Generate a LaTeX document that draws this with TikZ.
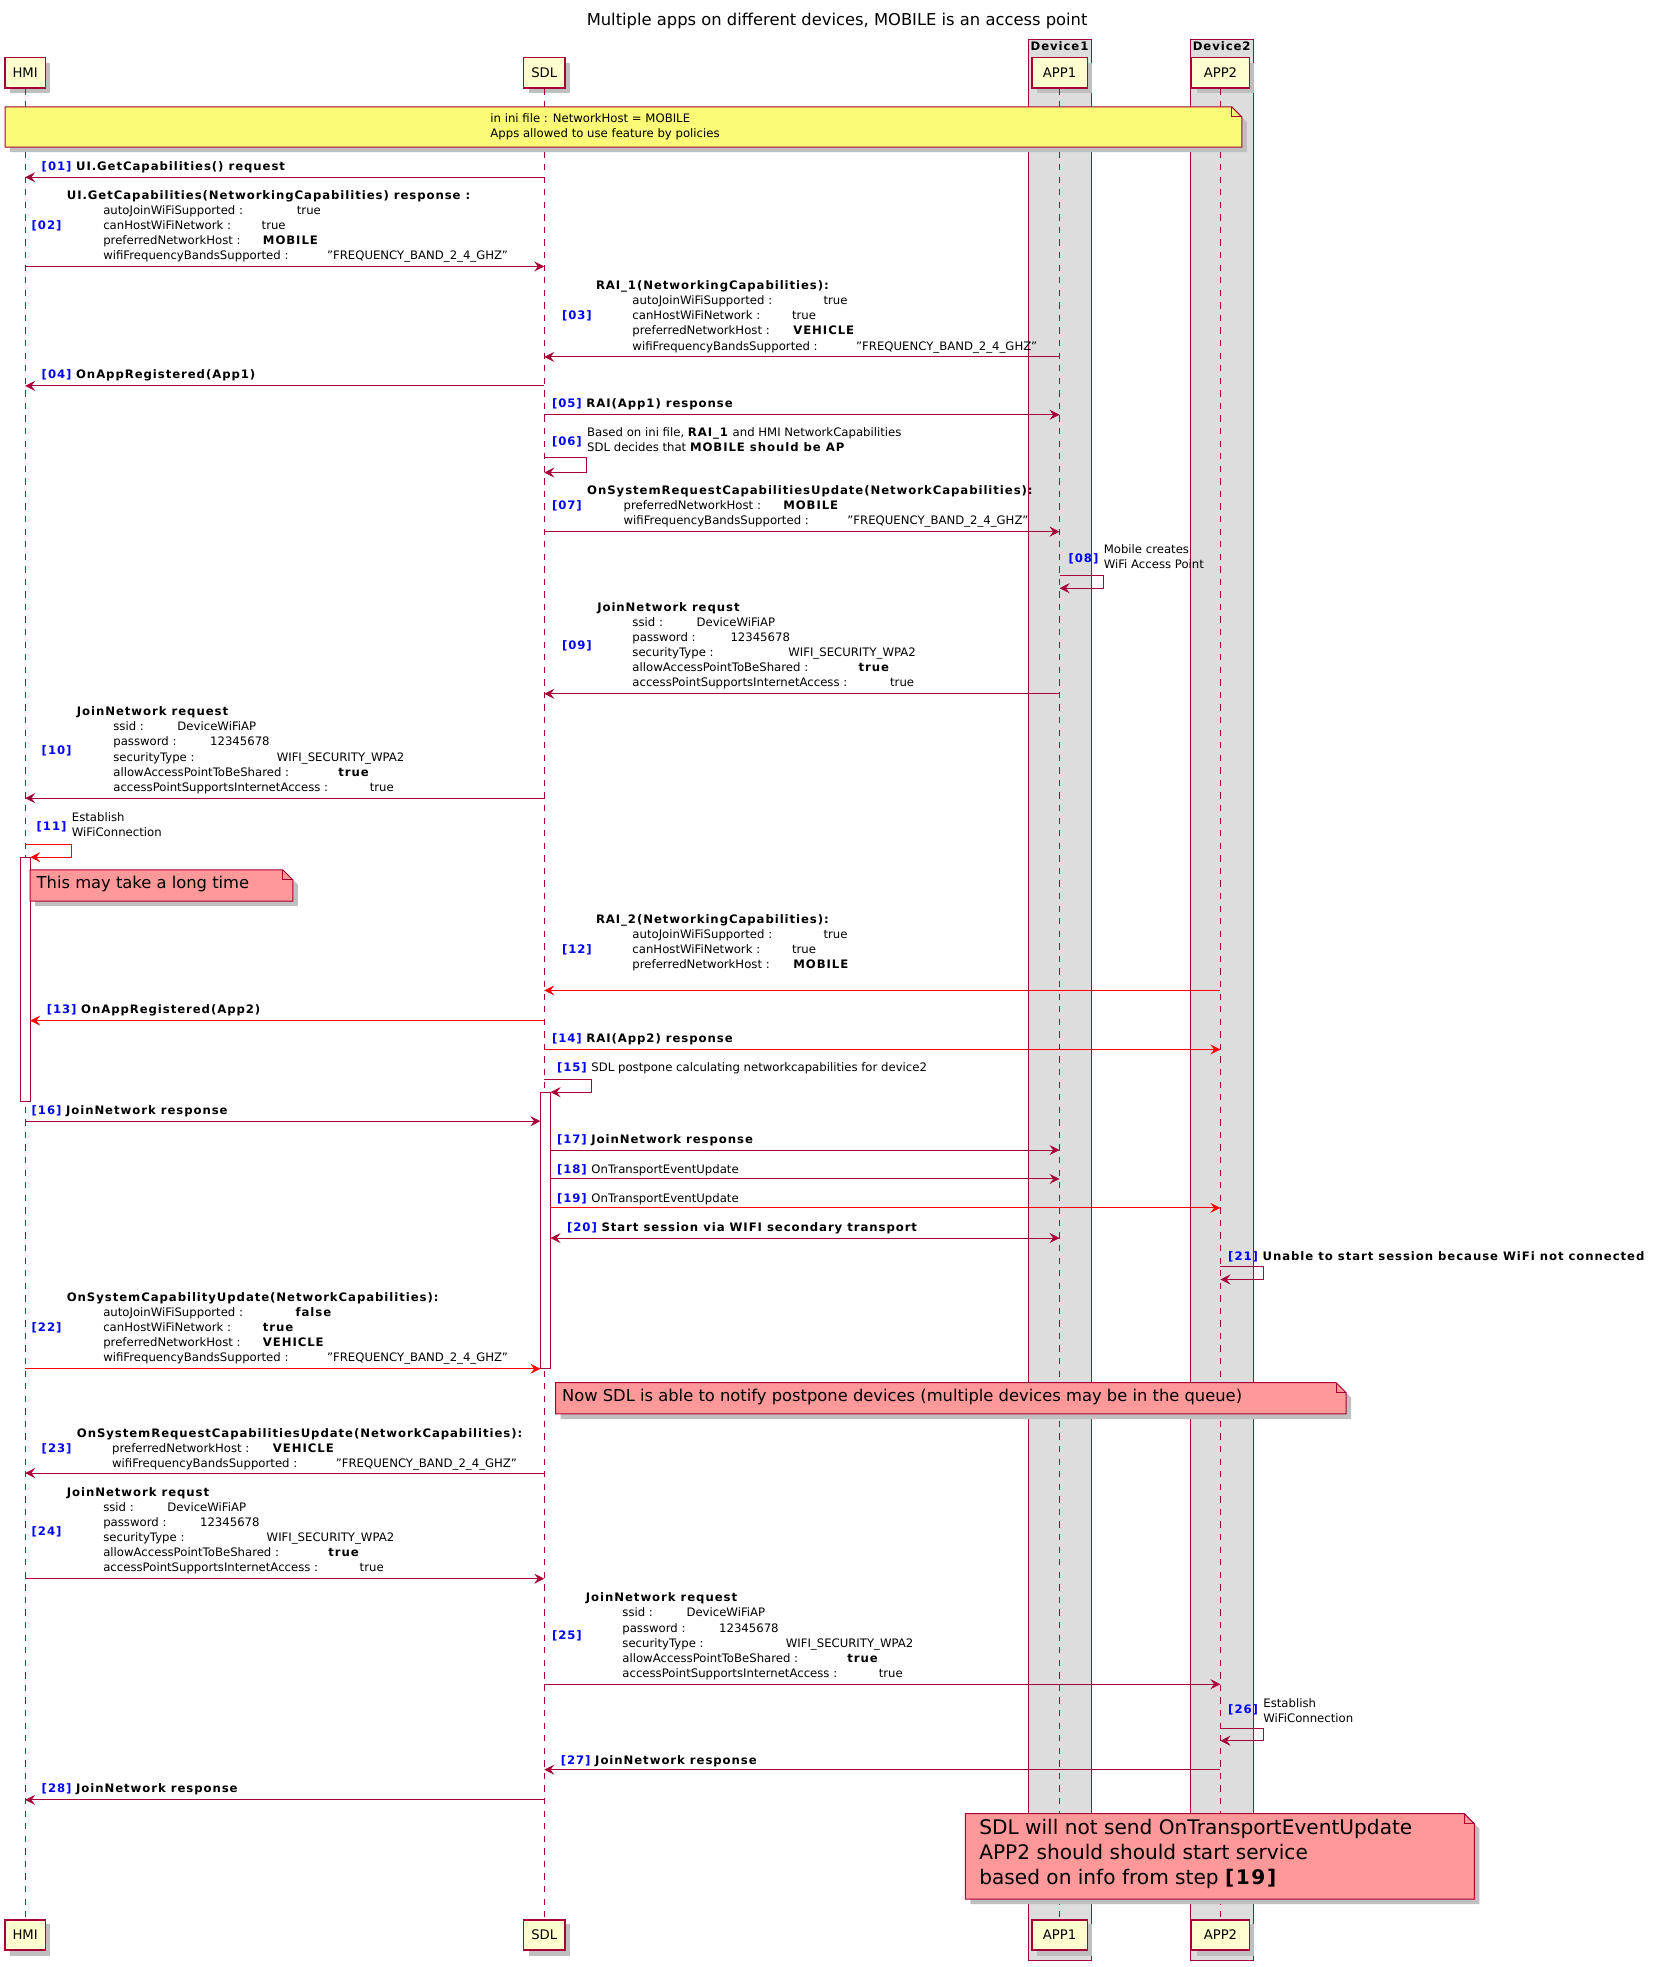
\documentclass[tikz,border=0pt]{standalone}
\usepackage{fontspec}
\setmainfont{DejaVu Sans}[BoldFeatures={LetterSpace=8}]
\usetikzlibrary{arrows.meta}
\definecolor{crim}{HTML}{A80036}
\definecolor{pbox}{HTML}{FEFECE}
\definecolor{ynote}{HTML}{FBFB77}
\definecolor{rnote}{HTML}{FF9999}
\definecolor{dev}{HTML}{DDDDDD}
\newcount\tc
\newcommand\T[3]{\node[lbl] (t\the\tc) at (#1,-#2) {#3};\global\advance\tc by 1\relax}
\newcommand\NN[1]{\textcolor{blue}{\textbf{[#1]}}}
\newcommand\Q{{\char34}}
\newcommand\FB{\Q FREQUENCY\_BAND\_2\_4\_GHZ\Q}
\newcommand\notebox[5]{%
 \fill[black!25] (#1+4,-#2-4) -- (#3-8+4,-#2-4) -- (#3+4,-#2-8-4) -- (#3+4,-#4-4) -- (#1+4,-#4-4) -- cycle;
 \draw[crim,fill=#5,line width=0.8pt] (#1,-#2) -- (#3-8,-#2) -- (#3,-#2-8) -- (#3,-#4) -- (#1,-#4) -- cycle;
 \draw[crim,line width=0.8pt] (#3-8,-#2) -- (#3-8,-#2-8) -- (#3,-#2-8);}
\tikzset{
 lbl/.style={anchor=west,inner sep=0pt,text height=7pt,text depth=2pt,font=\fontsize{9.3}{11}\selectfont},
 msg/.style={draw=crim,line width=0.8pt,-{Stealth[length=8pt,width=8pt,inset=3pt]}},
 rmsg/.style={msg,draw=red,color=red},
 part/.style={draw=crim,fill=pbox,line width=1pt,minimum height=24pt,inner sep=3pt,font=\fontsize{10.5}{12}\selectfont},
 life/.style={draw=crim,dashed,line width=0.6pt,dash pattern=on 5pt off 5pt},
 act/.style={draw=crim,fill=white,line width=0.8pt},
}
\begin{document}
\begin{tikzpicture}[x=1pt,y=1pt]
\useasboundingbox[fill=white] (0,0) rectangle (1330,-1565);
% device boxes
\draw[crim,fill=dev,line width=0.6pt] (818,-31) rectangle (868,-1560);
\draw[crim,fill=dev,line width=0.6pt] (947,-31) rectangle (997,-1560);
\node[font=\fontsize{9.3}{11}\selectfont\bfseries] (d1) at (843,-37) {Device1};
\node[font=\fontsize{9.3}{11}\selectfont\bfseries] (d2) at (972,-37) {Device2};
\node[font=\fontsize{13}{15}\selectfont] (title) at (666,-17) {Multiple apps on different devices, MOBILE is an access point};
% participants
\foreach \n/\x/\t/\w in {hmi/20/HMI/32,sdl/433/SDL/33,app1/843/APP1/44,app2/971/APP2/46}{
 \fill[black!25] (\x-\w/2+4,-50) rectangle (\x+\w/2+4,-74);
 \fill[black!25] (\x-\w/2+4,-1531) rectangle (\x+\w/2+4,-1556);
 \node[part,minimum width=\w pt] (\n T) at (\x,-58) {\t};
 \node[part,minimum width=\w pt] (\n B) at (\x,-1539.5) {\t};
 \draw[life] (\n T.south) -- (\n B.north);
}
% note 1
\notebox{4}{85}{988}{117}{ynote}
\T{390}{95}{in ini file : NetworkHost = MOBILE}
\T{390}{107}{Apps allowed to use feature by policies}
% 01
\T{33}{133}{\NN{01} \textbf{UI.GetCapabilities() request}}
\draw[msg] (sdlT |- 0,-141) -- (hmiT |- 0,-141);
% 02
\T{53}{156}{\textbf{UI.GetCapabilities(NetworkingCapabilities) response :}}
\T{25}{180}{\NN{02}}
\T{82}{168}{autoJoinWiFiSupported :}\T{236}{168}{true}
\T{82}{180}{canHostWiFiNetwork :}\T{208}{180}{true}
\T{82}{192}{preferredNetworkHost :}\T{209}{192}{\textbf{MOBILE}}
\T{82}{204}{wifiFrequencyBandsSupported :}\T{260}{204}{\FB}
\draw[msg] (hmiT |- 0,-212) -- (sdlT |- 0,-212);
% 03
\T{474}{228}{\textbf{RAI\_1(NetworkingCapabilities):}}
\T{447}{252}{\NN{03}}
\T{503}{240}{autoJoinWiFiSupported :}\T{655}{240}{true}
\T{503}{252}{canHostWiFiNetwork :}\T{630}{252}{true}
\T{503}{264}{preferredNetworkHost :}\T{631}{264}{\textbf{VEHICLE}}
\T{503}{276}{wifiFrequencyBandsSupported :}\T{681}{276}{\FB}
\draw[msg] (app1T |- 0,-284) -- (sdlT |- 0,-284);
% 04
\T{33}{299}{\NN{04} \textbf{OnAppRegistered(App1)}}
\draw[msg] (sdlT |- 0,-307) -- (hmiT |- 0,-307);
% 05
\T{439}{322}{\NN{05} \textbf{RAI(App1) response}}
\draw[msg] (sdlT |- 0,-330) -- (app1T |- 0,-330);
% 06
\T{439}{352}{\NN{06}}
\T{467}{345}{Based on ini file, \textbf{RAI\_1} and HMI NetworkCapabilities}
\T{467}{357}{SDL decides that \textbf{MOBILE should be AP}}
\draw[msg] (sdlT |- 0,-364) -- ++(34,0) -- ++(0,-12) -- ++(-34,0);
% 07
\T{467}{391}{\textbf{OnSystemRequestCapabilitiesUpdate(NetworkCapabilities):}}
\T{439}{403}{\NN{07}}
\T{496}{403}{preferredNetworkHost :}\T{623}{403}{\textbf{MOBILE}}
\T{496}{415}{wifiFrequencyBandsSupported :}\T{674}{415}{\FB}
\draw[msg] (sdlT |- 0,-423) -- (app1T |- 0,-423);
% 08
\T{850}{445}{\NN{08}}
\T{878}{438}{Mobile creates}
\T{878}{450}{WiFi Access Point}
\draw[msg] (app1T |- 0,-458) -- ++(35,0) -- ++(0,-10) -- ++(-35,0);
% 09
\T{475}{484}{\textbf{JoinNetwork requst}}
\T{447}{514}{\NN{09}}
\T{503}{496}{ssid :}\T{554}{496}{DeviceWiFiAP}
\T{503}{508}{password :}\T{581}{508}{12345678}
\T{503}{520}{securityType :}\T{627}{520}{WIFI\_SECURITY\_WPA2}
\T{503}{532}{allowAccessPointToBeShared :}\T{683}{532}{\textbf{true}}
\T{503}{544}{accessPointSupportsInternetAccess :}\T{708}{544}{true}
\draw[msg] (app1T |- 0,-552) -- (sdlT |- 0,-552);
% 10
\T{61}{567}{\textbf{JoinNetwork request}}
\T{33}{598}{\NN{10}}
\T{90}{579}{ssid :}\T{141}{579}{DeviceWiFiAP}
\T{90}{591}{password :}\T{167}{591}{12345678}
\T{90}{603}{securityType :}\T{220}{603}{WIFI\_SECURITY\_WPA2}
\T{90}{615}{allowAccessPointToBeShared :}\T{269}{615}{\textbf{true}}
\T{90}{627}{accessPointSupportsInternetAccess :}\T{294}{627}{true}
\draw[msg] (sdlT |- 0,-635) -- (hmiT |- 0,-635);
% 11
\T{29}{658}{\NN{11}}
\T{57}{651}{Establish}
\T{57}{663}{WiFiConnection}
\draw[act] (16,-682) rectangle (24,-876);
\draw[rmsg] (hmiT |- 0,-672) -- ++(37,0) -- ++(0,-10) -- ++(-33,0);
\notebox{24}{692}{233}{717}{rnote}
\node[lbl,font=\fontsize{13}{15}\selectfont] (n2) at (29,-704.5) {This may take a long time};
% 12
\T{474}{732}{\textbf{RAI\_2(NetworkingCapabilities):}}
\T{447}{756}{\NN{12}}
\T{503}{744}{autoJoinWiFiSupported :}\T{655}{744}{true}
\T{503}{756}{canHostWiFiNetwork :}\T{630}{756}{true}
\T{503}{768}{preferredNetworkHost :}\T{631}{768}{\textbf{MOBILE}}
\draw[rmsg] (app2T |- 0,-788) -- (sdlT |- 0,-788);
% 13
\T{37}{804}{\NN{13} \textbf{OnAppRegistered(App2)}}
\draw[rmsg] (sdlT |- 0,-812) -- (24,-812);
% 14
\T{439}{827}{\NN{14} \textbf{RAI(App2) response}}
\draw[rmsg] (sdlT |- 0,-835) -- (app2T |- 0,-835);
% 15
\T{443}{850}{\NN{15} SDL postpone calculating networkcapabilities for device2}
\draw[act] (430,-869) rectangle (438,-1089);
\draw[msg] (sdlT |- 0,-859) -- ++(38,0) -- ++(0,-10) -- ++(-33,0);
% 16
\T{25}{884}{\NN{16} \textbf{JoinNetwork response}}
\draw[msg] (hmiT |- 0,-892) -- (430,-892);
% 17-20
\T{443}{907}{\NN{17} \textbf{JoinNetwork response}}
\draw[msg] (438,-915) -- (app1T |- 0,-915);
\T{443}{931}{\NN{18} OnTransportEventUpdate}
\draw[msg] (438,-938) -- (app1T |- 0,-938);
\T{443}{954}{\NN{19} OnTransportEventUpdate}
\draw[rmsg] (438,-961) -- (app2T |- 0,-961);
\T{451}{977}{\NN{20} \textbf{Start session via WIFI secondary transport}}
\draw[msg,{Stealth[length=8pt,width=8pt,inset=3pt]}-{Stealth[length=8pt,width=8pt,inset=3pt]}] (438,-985) -- (app1T |- 0,-985);
% 21
\T{977}{1000}{\NN{21} \textbf{Unable to start session because WiFi not connected}}
\draw[msg] (app2T |- 0,-1008) -- ++(34,0) -- ++(0,-10) -- ++(-34,0);
% 22
\T{53}{1033}{\textbf{OnSystemCapabilityUpdate(NetworkCapabilities):}}
\T{25}{1057}{\NN{22}}
\T{82}{1045}{autoJoinWiFiSupported :}\T{235}{1045}{\textbf{false}}
\T{82}{1057}{canHostWiFiNetwork :}\T{209}{1057}{\textbf{true}}
\T{82}{1069}{preferredNetworkHost :}\T{209}{1069}{\textbf{VEHICLE}}
\T{82}{1081}{wifiFrequencyBandsSupported :}\T{260}{1081}{\FB}
\draw[rmsg] (hmiT |- 0,-1089) -- (430,-1089);
% note 3
\notebox{442}{1100}{1071}{1125}{rnote}
\node[lbl,font=\fontsize{13}{15}\selectfont] (n3) at (447,-1112.5) {Now SDL is able to notify postpone devices (multiple devices may be in the queue)};
% 23
\T{61}{1141}{\textbf{OnSystemRequestCapabilitiesUpdate(NetworkCapabilities):}}
\T{33}{1153}{\NN{23}}
\T{89}{1153}{preferredNetworkHost :}\T{217}{1153}{\textbf{VEHICLE}}
\T{89}{1165}{wifiFrequencyBandsSupported :}\T{267}{1165}{\FB}
\draw[msg] (sdlT |- 0,-1172) -- (hmiT |- 0,-1172);
% 24
\T{53}{1188}{\textbf{JoinNetwork requst}}
\T{25}{1219}{\NN{24}}
\T{82}{1200}{ssid :}\T{133}{1200}{DeviceWiFiAP}
\T{82}{1212}{password :}\T{159}{1212}{12345678}
\T{82}{1224}{securityType :}\T{212}{1224}{WIFI\_SECURITY\_WPA2}
\T{82}{1236}{allowAccessPointToBeShared :}\T{261}{1236}{\textbf{true}}
\T{82}{1248}{accessPointSupportsInternetAccess :}\T{286}{1248}{true}
\draw[msg] (hmiT |- 0,-1256) -- (sdlT |- 0,-1256);
% 25
\T{466}{1272}{\textbf{JoinNetwork request}}
\T{439}{1302}{\NN{25}}
\T{495}{1284}{ssid :}\T{546}{1284}{DeviceWiFiAP}
\T{495}{1296}{password :}\T{572}{1296}{12345678}
\T{495}{1308}{securityType :}\T{625}{1308}{WIFI\_SECURITY\_WPA2}
\T{495}{1320}{allowAccessPointToBeShared :}\T{674}{1320}{\textbf{true}}
\T{495}{1332}{accessPointSupportsInternetAccess :}\T{699}{1332}{true}
\draw[msg] (sdlT |- 0,-1340) -- (app2T |- 0,-1340);
% 26
\T{977}{1361}{\NN{26}}
\T{1005}{1356}{Establish}
\T{1005}{1368}{WiFiConnection}
\draw[msg] (app2T |- 0,-1375) -- ++(34,0) -- ++(0,-10) -- ++(-34,0);
% 27, 28
\T{446}{1401}{\NN{27} \textbf{JoinNetwork response}}
\draw[msg] (app2T |- 0,-1408) -- (sdlT |- 0,-1408);
\T{33}{1424}{\NN{28} \textbf{JoinNetwork response}}
\draw[msg] (sdlT |- 0,-1432) -- (hmiT |- 0,-1432);
% note 4
\notebox{768}{1443}{1173}{1511}{rnote}
\node[lbl,font=\fontsize{16}{18}\selectfont] (n4a) at (779,-1457) {SDL will not send OnTransportEventUpdate};
\node[lbl,font=\fontsize{16}{18}\selectfont] (n4b) at (779,-1477) {APP2 should should start service};
\node[lbl,font=\fontsize{16}{18}\selectfont] (n4c) at (779,-1497) {based on info from step \textbf{[19]}};
\end{tikzpicture}
\end{document}
